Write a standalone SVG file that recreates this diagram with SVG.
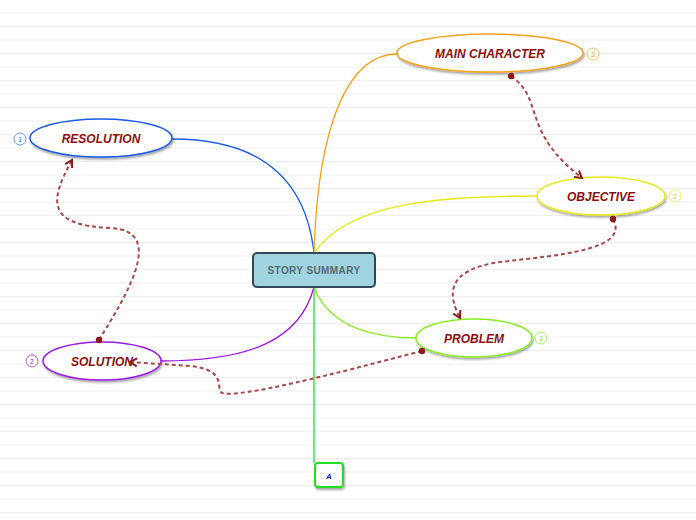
<svg xmlns="http://www.w3.org/2000/svg" width="696" height="520" viewBox="0 0 696 520">
<defs>
<pattern id="lines" width="696" height="13.5" patternUnits="userSpaceOnUse"><line x1="0" y1="13" x2="696" y2="13" stroke="#eeeeee" stroke-width="1"/></pattern>
<marker id="arr" viewBox="0 0 10 10" refX="8" refY="5" markerWidth="5" markerHeight="5" orient="auto"><path d="M1,1 L8,5 L1,9" fill="none" stroke="#8b1a1a" stroke-width="2"/></marker>
<marker id="dot" viewBox="0 0 10 10" refX="5" refY="5" markerWidth="4" markerHeight="4"><circle cx="5" cy="5" r="4" fill="#8b1a1a"/></marker>
<filter id="sh" x="-20%" y="-20%" width="140%" height="160%"><feDropShadow dx="1" dy="2" stdDeviation="1" flood-color="#000" flood-opacity="0.35"/></filter>
</defs>
<style>
.t{font-family:"Liberation Sans",Arial,sans-serif;font-weight:bold;font-style:italic;font-size:12px;fill:#8b0f0f;text-anchor:middle}
.n{font-family:"Liberation Sans",Arial,sans-serif;font-size:7px;text-anchor:middle}
.rel{fill:none;stroke:#a84848;stroke-width:2;stroke-dasharray:4,3;marker-start:url(#dot);marker-end:url(#arr)}
.c{fill:none;stroke-width:1.3}
</style>
<rect width="696" height="520" fill="#fff"/>
<rect width="696" height="520" fill="url(#lines)"/>
<g id="connectors">
<path class="c" stroke="#1a5ce6" d="M314,253 C305,170 250,139 172,139"/>
<path class="c" stroke="#f7a21b" d="M314,253 C318,120 350,54 397,54"/>
<path class="c" stroke="#e8e81a" d="M314,253 C350,200 450,196 537,196"/>
<path class="c" stroke="#9b1ae6" d="M314,287 C300,340 250,361 161,361"/>
<path class="c" stroke="#88ee22" d="M314,287 C330,330 380,338 416,338"/>
<path class="c" stroke="#22dd22" d="M314,287 L314,463"/>
</g>
<g id="center"><rect x="253" y="253" width="122" height="34" rx="4" fill="#9fd4e0" stroke="#2e4a5a" stroke-width="2"/><text x="314" y="274" font-family="Liberation Sans,Arial,sans-serif" font-weight="bold" font-size="10" letter-spacing="0.4" fill="#5a6a70" text-anchor="middle">STORY SUMMARY</text></g>
<g id="main"><ellipse cx="490" cy="53" rx="93" ry="19" fill="#fff" stroke="#f7a21b" stroke-width="1.5" filter="url(#sh)"/><text class="t" x="490" y="58">MAIN CHARACTER</text><circle cx="593" cy="54" r="6" fill="#fff" stroke="#f7c060"/><text class="n" x="593" y="57" fill="#f7a21b">3</text></g>
<g id="resolution"><ellipse cx="101" cy="138" rx="71" ry="19" fill="#fff" stroke="#1a5ce6" stroke-width="1.5" filter="url(#sh)"/><text class="t" x="101" y="143">RESOLUTION</text><circle cx="20" cy="139" r="6" fill="#fff" stroke="#6a9ae6"/><text class="n" x="20" y="142" fill="#1a5ce6">1</text></g>
<g id="objective"><ellipse cx="601" cy="196" rx="64" ry="19" fill="#fff" stroke="#e8e81a" stroke-width="1.5" filter="url(#sh)"/><text class="t" x="601" y="201">OBJECTIVE</text><circle cx="675" cy="196" r="6" fill="#fff" stroke="#eeee60"/><text class="n" x="675" y="199" fill="#d8d81a">2</text></g>
<g id="problem"><ellipse cx="474" cy="338" rx="58" ry="19" fill="#fff" stroke="#88ee22" stroke-width="1.5" filter="url(#sh)"/><text class="t" x="474" y="343">PROBLEM</text><circle cx="541" cy="338" r="6" fill="#fff" stroke="#a8ee60"/><text class="n" x="541" y="341" fill="#88ee22">3</text></g>
<g id="solution"><ellipse cx="102" cy="361" rx="59" ry="19" fill="#fff" stroke="#9b1ae6" stroke-width="1.5" filter="url(#sh)"/><text class="t" x="102" y="366">SOLUTION</text><circle cx="32" cy="361" r="6" fill="#fff" stroke="#b860e6"/><text class="n" x="32" y="364" fill="#9b1ae6">2</text></g>
<g id="a"><rect x="315" y="463" width="28" height="24" rx="3" fill="#fff" stroke="#22dd22" stroke-width="2" filter="url(#sh)"/><text x="329" y="479" font-family="Liberation Sans,Arial,sans-serif" font-weight="bold" font-style="italic" font-size="8" fill="#1a1a9a" text-anchor="middle">A</text></g>
<g id="relationships">
<path class="rel" d="M511,76 C545,100 520,130 582,178"/>
<path class="rel" d="M613,219 C630,250 560,255 500,262 C445,270 448,295 460,318"/>
<path class="rel" d="M99,340 C130,290 165,230 110,228 C45,225 50,200 72,160"/>
<path class="rel" d="M422,351 C330,375 240,398 222,393 C215,388 228,370 190,366 L130,362"/>
</g>
</svg>
